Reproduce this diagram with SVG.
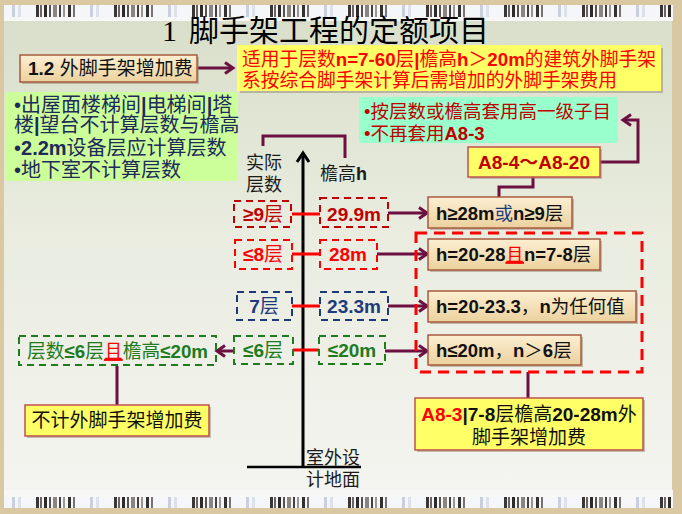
<svg xmlns="http://www.w3.org/2000/svg" width="682" height="514" viewBox="0 0 682 514">
<defs>
<linearGradient id="bg" x1="0" y1="0" x2="0" y2="1">
<stop offset="0" stop-color="#d9dfca"/>
<stop offset="0.45" stop-color="#e9ecdf"/>
<stop offset="1" stop-color="#f4f4f0"/>
</linearGradient>
<linearGradient id="beige" x1="0" y1="0" x2="0" y2="1">
<stop offset="0" stop-color="#fcefd2"/>
<stop offset="1" stop-color="#ebd19e"/>
</linearGradient>
<pattern id="bars" x="0" y="0" width="78" height="20" patternUnits="userSpaceOnUse">
<rect x="0" y="0" width="78" height="20" fill="#f4f6fa"/>
<rect x="12" y="0" width="3" height="20" fill="#c9cfdc"/>
<rect x="18" y="0" width="3" height="20" fill="#dde2ea"/>
<rect x="36" y="0" width="3" height="20" fill="#3a3636"/>
<rect x="40" y="0" width="2" height="20" fill="#6a6464"/>
<rect x="44" y="0" width="3" height="20" fill="#2e2a2a"/>
<rect x="49" y="0" width="2" height="20" fill="#57524f"/>
<rect x="53" y="0" width="4" height="20" fill="#8a8580"/>
<rect x="59" y="0" width="2" height="20" fill="#444040"/>
<rect x="63" y="0" width="2" height="20" fill="#9a9590"/>
<rect x="68" y="0" width="3" height="20" fill="#333030"/>
<rect x="73" y="0" width="2" height="20" fill="#787372"/>
</pattern>
<marker id="ar" markerWidth="14" markerHeight="14" refX="11" refY="7" orient="auto" markerUnits="userSpaceOnUse">
<path d="M3,1.5 L11,7 L3,12.5" fill="none" stroke="#6b1040" stroke-width="3"/>
</marker>
<marker id="axar" markerWidth="16" markerHeight="16" refX="12" refY="8" orient="auto" markerUnits="userSpaceOnUse">
<path d="M3,2 L12,8 L3,14" fill="none" stroke="#000" stroke-width="3"/>
</marker>
<style>
text{font-family:"Liberation Sans","Noto Sans CJK SC",sans-serif;}
.b{font-weight:bold;}
.t19{font-size:19px;}
.mid{text-anchor:middle;}
.beige{fill:url(#beige);stroke:#a85a3c;stroke-width:1.5;}
.yel{fill:#ffff66;stroke:#c0504d;stroke-width:1.5;}
.sh{fill:#8a7a6a;opacity:0.45;}
.dash{fill:none;stroke-width:2;stroke-dasharray:7 5;}
.con{fill:none;stroke:#6b1040;stroke-width:3;}
.redc{stroke:#ff0000;stroke-width:3;}
.dr{fill:#c00000;}
.rd{fill:#ff0000;}
.nv{fill:#1f3a7a;}
.gn{fill:#1e7b1e;}
.bk{fill:#111;}
</style>
</defs>

<!-- background slide -->
<rect x="0" y="0" width="682" height="514" fill="#d9c8a2"/>
<rect x="4" y="5" width="669" height="12" fill="url(#bars)"/>
<rect x="4" y="17" width="669" height="4" fill="#f7f8f6"/>
<rect x="4" y="21" width="668" height="469" fill="url(#bg)"/>
<rect x="4" y="490" width="669" height="7" fill="#f7f8f6"/>
<rect x="4" y="497" width="669" height="11" fill="url(#bars)"/>

<!-- title -->
<text x="162" y="41" font-size="30" style="font-family:'Liberation Serif','Noto Sans CJK SC',serif" fill="#000">1<tspan dx="12">脚手架工程的定额项目</tspan></text>

<!-- connectors -->
<g id="connectors">
<line x1="198" y1="68" x2="233" y2="68" class="con" marker-end="url(#ar)"/>
<polyline points="263,146 263,136 345,136 345,158" class="con"/>
<line x1="303" y1="467" x2="303" y2="153" stroke="#000" stroke-width="3" marker-end="url(#axar)"/>
<line x1="247" y1="467" x2="361" y2="467" stroke="#000" stroke-width="2.5"/>
<line x1="292" y1="214" x2="320" y2="214" class="redc"/>
<line x1="292" y1="254" x2="320" y2="254" class="redc"/>
<line x1="292" y1="306" x2="320" y2="306" class="redc"/>
<line x1="293" y1="350" x2="319" y2="350" class="redc"/>
<line x1="388" y1="213" x2="427" y2="213" class="con" marker-end="url(#ar)"/>
<line x1="377" y1="254" x2="427" y2="254" class="con" marker-end="url(#ar)"/>
<line x1="388" y1="306" x2="427" y2="306" class="con" marker-end="url(#ar)"/>
<line x1="385" y1="351" x2="427" y2="351" class="con" marker-end="url(#ar)"/>
<line x1="234" y1="351" x2="217" y2="351" class="con" marker-end="url(#ar)"/>
<line x1="117" y1="366" x2="117" y2="405" class="con"/>
<line x1="528" y1="372" x2="528" y2="398" class="con"/>
<polyline points="533,177 533,187 499,187 499,197" class="con"/>
<polyline points="600,162 638,162 638,120 623,120" class="con" marker-end="url(#ar)"/>
</g>

<!-- 1.2 box -->
<g id="n-12">
<rect x="22" y="57" width="177" height="27" class="sh"/>
<rect x="20" y="55" width="177" height="27" class="beige"/>
<text x="28" y="75" class="t19 bk"><tspan class="b">1.2 </tspan>外脚手架增加费</text>
</g>

<!-- top yellow note -->
<g id="n-note">
<rect x="240" y="48" width="423" height="45" class="sh"/>
<rect x="237" y="45" width="424" height="46" fill="#ffff66"/>
<text x="242" y="66" class="t19 rd" textLength="414" lengthAdjust="spacingAndGlyphs">适用于层数<tspan class="b">n=7-60</tspan>层<tspan class="b">|</tspan>檐高<tspan class="b">h</tspan>＞<tspan class="b">20m</tspan>的建筑外脚手架</text>
<text x="242" y="87" class="t19 rd" textLength="375" lengthAdjust="spacingAndGlyphs">系按综合脚手架计算后需增加的外脚手架费用</text>
</g>

<!-- green note -->
<g id="n-green">
<rect x="5" y="92" width="233" height="89" rx="3" fill="#ccff99"/>
<text x="14" y="112" font-size="20" fill="#1e2b5a">•出屋面楼梯间<tspan class="b">|</tspan>电梯间<tspan class="b">|</tspan>塔</text>
<text x="14" y="132" font-size="20" fill="#1e2b5a">楼<tspan class="b">|</tspan>望台不计算层数与檐高</text>
<text x="14" y="155" font-size="20" fill="#1e2b5a">•<tspan class="b">2.2m</tspan>设备层应计算层数</text>
<text x="14" y="177" font-size="20" fill="#1e2b5a">•地下室不计算层数</text>
</g>

<!-- cyan note -->
<g id="n-cyan">
<rect x="359" y="97" width="259" height="46" rx="2" fill="#99ffcc"/>
<text x="364" y="118" font-size="18.5" class="dr">•按层数或檐高套用高一级子目</text>
<text x="364" y="140" font-size="18.5" class="dr">•不再套用<tspan class="b">A8-3</tspan></text>
</g>

<!-- A8-4 box -->
<g id="n-a84">
<rect x="470" y="149" width="132" height="30" class="sh"/>
<rect x="468" y="147" width="132" height="30" class="yel"/>
<text x="534" y="169" class="t19 mid dr b">A8-4～A8-20</text>
</g>

<!-- axis labels -->
<g id="n-labels">
<text x="246" y="169" font-size="18" fill="#1a1a1a">实际</text>
<text x="246" y="191" font-size="18" fill="#1a1a1a">层数</text>
<text x="320" y="180" font-size="18" fill="#1a1a1a">檐高<tspan class="b">h</tspan></text>
<text x="306" y="464" font-size="18" fill="#1a1a1a">室外设</text>
<text x="306" y="486" font-size="18" fill="#1a1a1a">计地面</text>
</g>

<!-- left column -->
<g id="n-f9">
<rect x="234" y="201" width="57" height="26" class="dash" stroke="#c00000"/>
<text x="263" y="221" class="t19 mid dr"><tspan class="b">≥9</tspan>层</text>
</g>
<g id="n-f8">
<rect x="235" y="240" width="57" height="29" class="dash" stroke="#ff0000"/>
<text x="263" y="261" class="t19 mid rd"><tspan class="b">≤8</tspan>层</text>
</g>
<g id="n-f7">
<rect x="237" y="292" width="55" height="28" class="dash" stroke="#1f3a7a"/>
<text x="264" y="313" class="t19 mid nv"><tspan class="b">7</tspan>层</text>
</g>
<g id="n-f6">
<rect x="234" y="336" width="59" height="28" class="dash" stroke="#1e7b1e"/>
<text x="263" y="357" class="t19 mid gn"><tspan class="b">≤6</tspan>层</text>
</g>

<!-- right column -->
<g id="n-h299">
<rect x="320" y="198" width="68" height="29" class="dash" stroke="#c00000"/>
<text x="354" y="221" class="t19 mid dr b">29.9m</text>
</g>
<g id="n-h28">
<rect x="320" y="240" width="57" height="29" class="dash" stroke="#ff0000"/>
<text x="348" y="261" class="t19 mid rd b">28m</text>
</g>
<g id="n-h233">
<rect x="320" y="292" width="68" height="28" class="dash" stroke="#1f3a7a"/>
<text x="354" y="313" class="t19 mid nv b">23.3m</text>
</g>
<g id="n-h20">
<rect x="319" y="336" width="66" height="28" class="dash" stroke="#1e7b1e"/>
<text x="352" y="357" class="t19 mid gn b">≤20m</text>
</g>

<!-- left green condition -->
<g id="n-cond6">
<rect x="19" y="336" width="197" height="29" class="dash" stroke="#1e7b1e"/>
<text x="27" y="358" class="t19 gn" textLength="181" lengthAdjust="spacingAndGlyphs">层数<tspan class="b">≤6</tspan>层<tspan class="rd" text-decoration="underline">且</tspan>檐高<tspan class="b">≤20m</tspan></text>
</g>

<!-- no fee -->
<g id="n-nofee">
<rect x="27" y="407" width="184" height="31" class="sh"/>
<rect x="25" y="405" width="184" height="31" class="yel"/>
<text x="117" y="427" class="t19 mid bk">不计外脚手架增加费</text>
</g>

<!-- right beige boxes -->
<g id="n-r1">
<rect x="430" y="199" width="144" height="31" class="sh"/>
<rect x="428" y="197" width="144" height="31" class="beige"/>
<text x="436" y="220" font-size="18.5" class="bk"><tspan class="b">h≥28m</tspan><tspan class="nv">或</tspan><tspan class="b">n≥9</tspan>层</text>
</g>
<g id="n-r2">
<rect x="430" y="241" width="172" height="31" class="sh"/>
<rect x="428" y="239" width="172" height="31" class="beige"/>
<text x="436" y="261" font-size="18.5" class="bk"><tspan class="b">h=20-28</tspan><tspan class="rd" text-decoration="underline">且</tspan><tspan class="b">n=7-8</tspan>层</text>
</g>
<g id="n-r3">
<rect x="430" y="293" width="208" height="31" class="sh"/>
<rect x="428" y="291" width="208" height="31" class="beige"/>
<text x="436" y="313" font-size="18.5" class="bk"><tspan class="b">h=20-23.3</tspan>，<tspan class="b">n</tspan>为任何值</text>
</g>
<g id="n-r4">
<rect x="430" y="337" width="153" height="30" class="sh"/>
<rect x="428" y="335" width="153" height="30" class="beige"/>
<text x="436" y="357" font-size="18.5" class="bk"><tspan class="b">h≤20m</tspan>，<tspan class="b">n</tspan>＞<tspan class="b">6</tspan>层</text>
</g>

<!-- big red dashed group -->
<g id="n-group">
<rect x="416" y="233" width="226" height="139" fill="none" stroke="#ff0000" stroke-width="3" stroke-dasharray="11 7"/>
</g>

<!-- A8-3 box -->
<g id="n-a83">
<rect x="417" y="400" width="228" height="52" class="sh"/>
<rect x="415" y="398" width="228" height="52" class="yel"/>
<text x="529" y="421" class="t19 mid bk"><tspan class="b rd">A8-3</tspan><tspan class="b">|7-8</tspan>层檐高<tspan class="b">20-28m</tspan>外</text>
<text x="529" y="444" class="t19 mid bk">脚手架增加费</text>
</g>
</svg>
